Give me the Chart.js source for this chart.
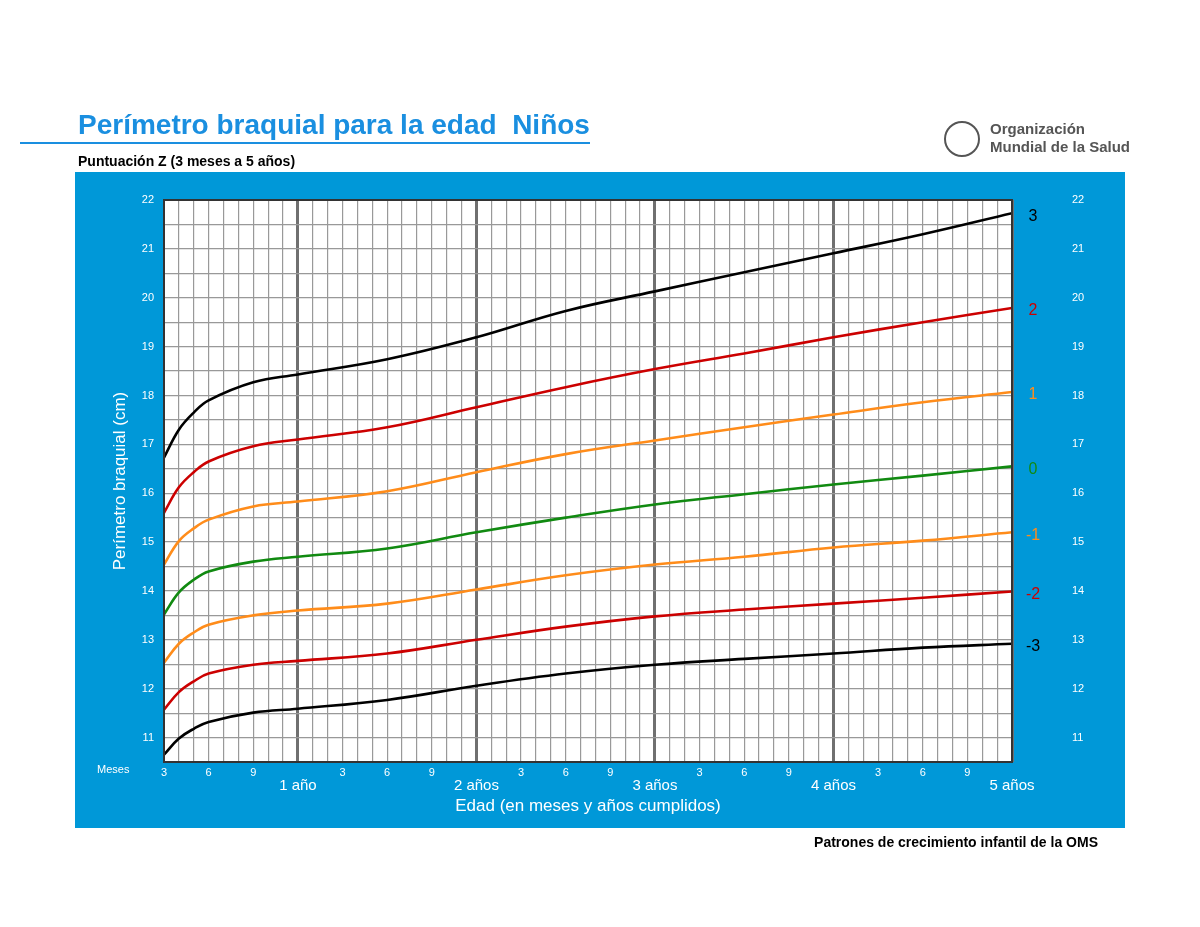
<!DOCTYPE html>
<html><head><meta charset="utf-8">
<script src="https://cdn.jsdelivr.net/npm/chart.js@4"></script>
<style>html,body{margin:0;padding:0;background:#fff}</style>
</head><body>
<canvas id="c" width="1200" height="927"></canvas>
<script>
// edad en meses
const months = [3, 4, 5, 6, 9, 12, 18, 24, 30, 36, 42, 48, 54, 60];
const sd3  = [16.73, 17.3, 17.65, 17.9, 18.27, 18.43, 18.74, 19.19, 19.73, 20.13, 20.52, 20.91, 21.3, 21.73];
const sd2  = [15.6, 16.12, 16.43, 16.65, 16.96, 17.1, 17.35, 17.76, 18.17, 18.54, 18.86, 19.19, 19.5, 19.79];
const sd1  = [14.54, 15.02, 15.28, 15.46, 15.73, 15.83, 16.04, 16.43, 16.8, 17.08, 17.35, 17.61, 17.86, 18.07];
const sd0  = [13.52, 13.97, 14.23, 14.4, 14.6, 14.7, 14.87, 15.2, 15.5, 15.77, 15.98, 16.18, 16.36, 16.55];
const sdm1 = [12.53, 12.92, 13.15, 13.31, 13.5, 13.6, 13.74, 14.03, 14.32, 14.54, 14.7, 14.89, 15.03, 15.2];
const sdm2 = [11.57, 11.93, 12.15, 12.31, 12.49, 12.57, 12.72, 13.0, 13.27, 13.48, 13.62, 13.74, 13.86, 13.99];
const sdm3 = [10.65, 10.98, 11.18, 11.32, 11.51, 11.59, 11.77, 12.06, 12.31, 12.49, 12.61, 12.72, 12.84, 12.92];
const zLabels = ['3', '2', '1', '0', '-1', '-2', '-3'];
const yearLabels = ['1 año', '2 años', '3 años', '4 años', '5 años'];

const series = [sd3, sd2, sd1, sd0, sdm1, sdm2, sdm3];
const colors = ['#000000', '#cc0000', '#ff8c1a', '#118a11', '#ff8c1a', '#cc0000', '#000000'];

const deco = {
  id: 'deco',
  beforeDraw(chart) {
    const ctx = chart.ctx, a = chart.chartArea;
    ctx.save();
    ctx.fillStyle = '#0098d8';
    ctx.fillRect(75, 172, 1050, 656);
    ctx.fillStyle = '#fff';
    ctx.fillRect(a.left, a.top, a.right - a.left, a.bottom - a.top);
    ctx.restore();
  },
  afterDraw(chart) {
    const ctx = chart.ctx, a = chart.chartArea, x = chart.scales.x, y = chart.scales.y;
    ctx.save();
    ctx.strokeStyle = '#333'; ctx.lineWidth = 2;
    ctx.strokeRect(a.left, a.top, a.right - a.left, a.bottom - a.top);
    ctx.fillStyle = '#fff';
    ctx.font = '11px "Liberation Sans", Arial';
    ctx.textAlign = 'left'; ctx.textBaseline = 'middle';
    ctx.fillText('Meses', 97, 770);
    ctx.font = '15px "Liberation Sans", Arial'; ctx.textAlign = 'center';
    yearLabels.forEach((t, i) => ctx.fillText(t, x.getPixelForValue(12 * (i + 1)), 786));
    ctx.font = '17px "Liberation Sans", Arial';
    ctx.fillText('Edad (en meses y años cumplidos)', (a.left + a.right) / 2, 806);
    ctx.save();
    ctx.translate(120, (a.top + a.bottom) / 2);
    ctx.rotate(-Math.PI / 2);
    ctx.fillText('Perímetro braquial (cm)', 0, 0);
    ctx.restore();
    ctx.font = '16px "Liberation Sans", Arial';
    series.forEach((s, i) => {
      ctx.fillStyle = colors[i];
      ctx.fillText(zLabels[i], 1033, y.getPixelForValue(s[s.length - 1]) + 3);
    });
    // titulos
    ctx.fillStyle = '#1a8fe0';
    ctx.font = 'bold 28px "Liberation Sans", Arial'; ctx.textAlign = 'left';
    ctx.fillText('Perímetro braquial para la edad  Niños', 78, 126);
    ctx.fillRect(20, 142, 570, 2);
    ctx.fillStyle = '#000';
    ctx.font = 'bold 14px "Liberation Sans", Arial';
    ctx.fillText('Puntuación Z (3 meses a 5 años)', 78, 162);
    ctx.textAlign = 'right';
    ctx.fillText('Patrones de crecimiento infantil de la OMS', 1098, 843);
    ctx.textAlign = 'left'; ctx.fillStyle = '#555';
    ctx.font = 'bold 15px "Liberation Sans", Arial';
    ctx.fillText('Organización', 990, 130);
    ctx.fillText('Mundial de la Salud', 990, 148);
    ctx.strokeStyle = '#555'; ctx.lineWidth = 2;
    ctx.beginPath(); ctx.arc(962, 139, 17, 0, Math.PI * 2); ctx.stroke();
    ctx.restore();
  }
};

new Chart(document.getElementById('c'), {
  type: 'line',
  data: {
    datasets: series.map((s, i) => ({
      data: s.map((v, j) => ({ x: months[j], y: v })),
      borderColor: colors[i],
      borderWidth: 2.6,
      pointRadius: 0,
      tension: 0.4
    }))
  },
  options: {
    responsive: false,
    animation: false,
    layout: { padding: { left: 75, right: 75, top: 200, bottom: 145 } },
    plugins: { legend: { display: false }, tooltip: { enabled: false } },
    scales: {
      x: {
        type: 'linear', min: 3, max: 60,
        afterBuildTicks: s => { s.ticks = []; for (let m = 3; m <= 60; m++) s.ticks.push({ value: m }); },
        afterFit: s => { s.height = 20; },
        grid: {
          color: c => c.tick && c.tick.value % 12 === 0 ? '#707070' : '#999',
          lineWidth: c => c.tick && c.tick.value % 12 === 0 ? 3 : 1.2,
          drawTicks: false
        },
        border: { display: false },
        ticks: {
          color: '#fff', font: { size: 11 }, autoSkip: false, maxRotation: 0, padding: 4,
          callback: v => (v % 3 === 0 && v % 12 !== 0) ? String(v % 12) : ''
        }
      },
      y: {
        min: 10.5, max: 22,
        afterBuildTicks: s => { s.ticks = []; for (let v = 10.5; v <= 22; v += 0.5) s.ticks.push({ value: v }); },
        afterFit: s => { s.width = 89; },
        grid: { color: '#999', lineWidth: 1.2, drawTicks: false },
        border: { display: false },
        ticks: { color: '#fff', font: { size: 11 }, padding: 10, callback: v => Number.isInteger(v) && v > 10.5 ? String(v) : '' }
      },
      y2: {
        position: 'right', min: 10.5, max: 22,
        afterBuildTicks: s => { s.ticks = []; for (let v = 11; v <= 22; v++) s.ticks.push({ value: v }); },
        afterFit: s => { s.width = 113; },
        grid: { display: false },
        border: { display: false },
        ticks: { color: '#fff', font: { size: 11 }, padding: 52, callback: v => String(v) }
      }
    }
  },
  plugins: [deco]
});
</script>
</body></html>
